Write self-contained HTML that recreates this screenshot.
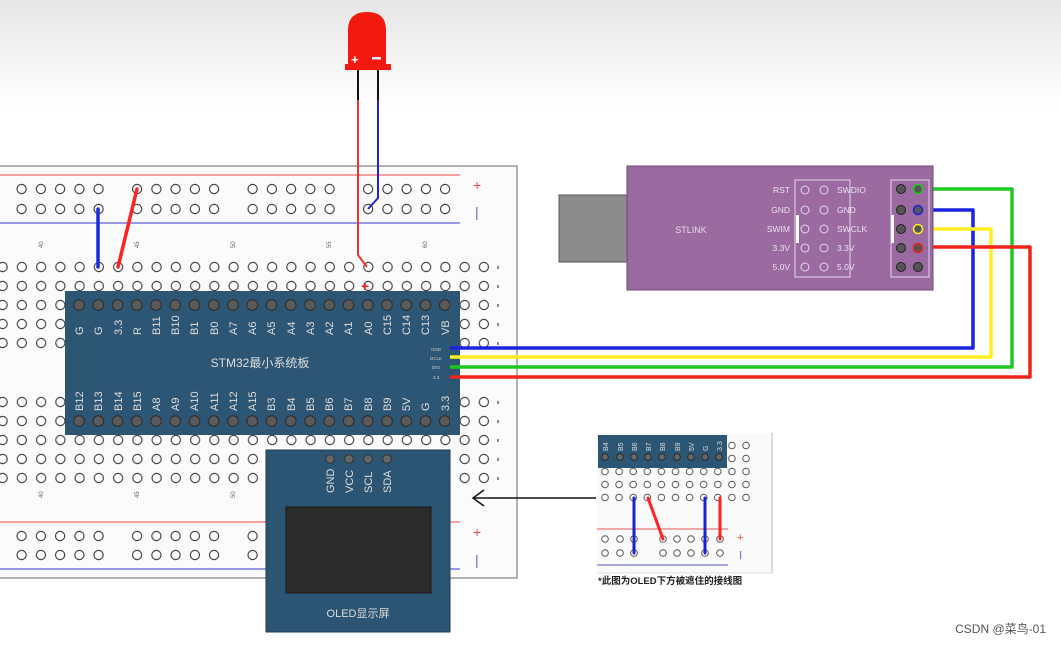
<!DOCTYPE html>
<html><head><meta charset="utf-8"><style>
html,body{margin:0;padding:0;background:#fff;}
svg{display:block;font-family:"Liberation Sans","Noto Sans CJK SC",sans-serif;}
</style></head><body>
<svg width="1061" height="646" viewBox="0 0 1061 646" xmlns="http://www.w3.org/2000/svg">
<defs>
<linearGradient id="bg" x1="0" y1="0" x2="0" y2="1">
<stop offset="0" stop-color="#e6e6e6"/><stop offset="1" stop-color="#ffffff"/>
</linearGradient>
<pattern id="hole" x="-7" y="257.5" width="19.25" height="19" patternUnits="userSpaceOnUse">
<circle cx="9.625" cy="9.5" r="4.6" fill="#fff" stroke="#444" stroke-width="1.2"/>
</pattern>
<pattern id="holeB" x="-7" y="392.5" width="19.25" height="19" patternUnits="userSpaceOnUse">
<circle cx="9.625" cy="9.5" r="4.6" fill="#fff" stroke="#444" stroke-width="1.2"/>
</pattern>
<pattern id="rail" x="12" y="179" width="115.5" height="20" patternUnits="userSpaceOnUse">
<g fill="#fff" stroke="#444" stroke-width="1.2">
<circle cx="9.6" cy="10" r="4.6"/><circle cx="28.9" cy="10" r="4.6"/><circle cx="48.1" cy="10" r="4.6"/><circle cx="67.4" cy="10" r="4.6"/><circle cx="86.6" cy="10" r="4.6"/></g>
</pattern>
<pattern id="railB" x="12" y="526.5" width="115.5" height="19" patternUnits="userSpaceOnUse">
<g fill="#fff" stroke="#444" stroke-width="1.2">
<circle cx="9.6" cy="9.5" r="4.6"/><circle cx="28.9" cy="9.5" r="4.6"/><circle cx="48.1" cy="9.5" r="4.6"/><circle cx="67.4" cy="9.5" r="4.6"/><circle cx="86.6" cy="9.5" r="4.6"/></g>
</pattern>
<pattern id="pin" x="69.4" y="295" width="19.25" height="116" patternUnits="userSpaceOnUse">
<circle cx="9.625" cy="10" r="5.3" fill="#5a5a5a" stroke="#2a2a2a" stroke-width="1"/>
<circle cx="9.625" cy="126" r="5.3" fill="#5a5a5a" stroke="#2a2a2a" stroke-width="1"/>
</pattern>
<pattern id="ihole" x="598" y="465" width="14.1" height="13" patternUnits="userSpaceOnUse">
<circle cx="7" cy="6.5" r="3.3" fill="#fff" stroke="#555" stroke-width="1"/>
</pattern>
</defs>
<rect width="1061" height="110" fill="url(#bg)"/>

<!-- breadboard -->
<rect x="-5" y="166" width="522" height="412" fill="#fbfbfb" stroke="#999" stroke-width="1.5"/>
<line x1="0" y1="175" x2="460" y2="175" stroke="#e44" stroke-width="1"/>
<line x1="0" y1="223" x2="460" y2="223" stroke="#33c" stroke-width="1"/>
<line x1="0" y1="522" x2="460" y2="522" stroke="#e44" stroke-width="1"/>
<line x1="0" y1="569" x2="460" y2="569" stroke="#33c" stroke-width="1"/>
<rect x="12" y="179" width="445" height="40" fill="url(#rail)"/>
<rect x="12" y="526.5" width="445" height="38" fill="url(#railB)"/>
<rect x="-7" y="257.5" width="500" height="95" fill="url(#hole)"/>
<rect x="-7" y="392.5" width="500" height="95" fill="url(#holeB)"/>
<g fill="#e44" font-size="14"><text x="473" y="190">+</text><text x="473" y="537">+</text></g>
<g fill="#66c" font-size="14"><text x="475" y="217">|</text><text x="475" y="565">|</text></g>
<g font-size="6" fill="#666">
<text transform="translate(43,248) rotate(-90)">40</text><text transform="translate(139,248) rotate(-90)">45</text><text transform="translate(235,248) rotate(-90)">50</text><text transform="translate(331,248) rotate(-90)">55</text><text transform="translate(427,248) rotate(-90)">60</text>
<text transform="translate(43,498) rotate(-90)">40</text><text transform="translate(139,498) rotate(-90)">45</text><text transform="translate(235,498) rotate(-90)">50</text>
</g>
<g fill="#888"><rect x="497" y="266" width="2" height="3"/><rect x="497" y="285" width="2" height="3"/><rect x="497" y="304" width="2" height="3"/><rect x="497" y="323" width="2" height="3"/><rect x="497" y="342" width="2" height="3"/><rect x="497" y="401" width="2" height="3"/><rect x="497" y="420" width="2" height="3"/><rect x="497" y="439" width="2" height="3"/><rect x="497" y="458" width="2" height="3"/><rect x="497" y="477" width="2" height="3"/></g>

<!-- jumpers -->
<line x1="98" y1="209" x2="98" y2="267" stroke="#1a2bd8" stroke-width="3.5" stroke-linecap="round"/>
<line x1="137" y1="189" x2="118" y2="267" stroke="#f22" stroke-width="3.5" stroke-linecap="round"/>
<text x="361" y="291" fill="#f22" font-size="14" font-weight="bold">+</text>

<!-- LED -->
<path d="M358 70 V100" stroke="#111" stroke-width="2" fill="none"/>
<path d="M378 70 V100" stroke="#111" stroke-width="2" fill="none"/>
<path d="M358 100 V255 L367 267" stroke="#e33" stroke-width="2" fill="none"/>
<path d="M378 100 V198 L368 209" stroke="#22c" stroke-width="2" fill="none"/>
<path d="M348 64 V30 Q348 12 367 12 Q386 12 386 30 V64 Z" fill="#f21a0f"/>
<rect x="345" y="64" width="46" height="6" fill="#f21a0f"/>
<text x="351" y="64" fill="#fff" font-size="13" font-weight="bold">+</text>
<rect x="372" y="57" width="9" height="2.5" fill="#fff"/>

<!-- STM32 board -->
<rect x="65" y="291" width="395" height="144" fill="#2d5674"/>
<rect x="65" y="295" width="385" height="136" fill="url(#pin)"/>
<g fill="#ddd" font-size="11">
<text transform="translate(83,335) rotate(-90)">G</text>
<text transform="translate(102,335) rotate(-90)">G</text>
<text transform="translate(122,335) rotate(-90)">3.3</text>
<text transform="translate(141,335) rotate(-90)">R</text>
<text transform="translate(160,335) rotate(-90)">B11</text>
<text transform="translate(179,335) rotate(-90)">B10</text>
<text transform="translate(198,335) rotate(-90)">B1</text>
<text transform="translate(218,335) rotate(-90)">B0</text>
<text transform="translate(237,335) rotate(-90)">A7</text>
<text transform="translate(256,335) rotate(-90)">A6</text>
<text transform="translate(275,335) rotate(-90)">A5</text>
<text transform="translate(295,335) rotate(-90)">A4</text>
<text transform="translate(314,335) rotate(-90)">A3</text>
<text transform="translate(333,335) rotate(-90)">A2</text>
<text transform="translate(352,335) rotate(-90)">A1</text>
<text transform="translate(372,335) rotate(-90)">A0</text>
<text transform="translate(391,335) rotate(-90)">C15</text>
<text transform="translate(410,335) rotate(-90)">C14</text>
<text transform="translate(429,335) rotate(-90)">C13</text>
<text transform="translate(449,335) rotate(-90)">VB</text>
<text transform="translate(83,411) rotate(-90)">B12</text>
<text transform="translate(102,411) rotate(-90)">B13</text>
<text transform="translate(122,411) rotate(-90)">B14</text>
<text transform="translate(141,411) rotate(-90)">B15</text>
<text transform="translate(160,411) rotate(-90)">A8</text>
<text transform="translate(179,411) rotate(-90)">A9</text>
<text transform="translate(198,411) rotate(-90)">A10</text>
<text transform="translate(218,411) rotate(-90)">A11</text>
<text transform="translate(237,411) rotate(-90)">A12</text>
<text transform="translate(256,411) rotate(-90)">A15</text>
<text transform="translate(275,411) rotate(-90)">B3</text>
<text transform="translate(295,411) rotate(-90)">B4</text>
<text transform="translate(314,411) rotate(-90)">B5</text>
<text transform="translate(333,411) rotate(-90)">B6</text>
<text transform="translate(352,411) rotate(-90)">B7</text>
<text transform="translate(372,411) rotate(-90)">B8</text>
<text transform="translate(391,411) rotate(-90)">B9</text>
<text transform="translate(410,411) rotate(-90)">5V</text>
<text transform="translate(429,411) rotate(-90)">G</text>
<text transform="translate(449,411) rotate(-90)">3.3</text>
</g>
<text x="260" y="367" fill="#ddd" font-size="12" text-anchor="middle">STM32最小系统板</text>
<g fill="#ccc" font-size="4.5"><text x="431" y="351">GND</text><text x="430" y="360">DCLK</text><text x="432" y="369">DIO</text><text x="433" y="379">3.3</text></g>

<!-- SWD wires -->
<g fill="none" stroke-width="3.5" stroke-linejoin="round">
<path d="M450 348 H973 V210 H918" stroke="#1a23e0"/>
<path d="M450 357 H991 V229 H918" stroke="#ffee22"/>
<path d="M450 367 H1012 V189 H918" stroke="#1ec81e"/>
<path d="M450 377 H1030 V247 H918" stroke="#f0221a"/>
</g>

<!-- STLINK -->
<rect x="559" y="195" width="69" height="67" fill="#8c8c8c" stroke="#555"/>
<rect x="627" y="166" width="306" height="124" fill="#9a6aa0" stroke="#6d4a74"/>
<text x="691" y="233" fill="#e6d8ea" font-size="9" text-anchor="middle">STLINK</text>
<rect x="795" y="180" width="55" height="97" fill="none" stroke="#e6d8ea" stroke-width="1"/>
<rect x="796" y="215" width="3" height="28" fill="#fff"/>
<g fill="none" stroke="#e6d8ea" stroke-width="1">
<circle cx="805" cy="190" r="4"/><circle cx="824" cy="190" r="4"/>
<circle cx="805" cy="210" r="4"/><circle cx="824" cy="210" r="4"/>
<circle cx="805" cy="229" r="4"/><circle cx="824" cy="229" r="4"/>
<circle cx="805" cy="248" r="4"/><circle cx="824" cy="248" r="4"/>
<circle cx="805" cy="267" r="4"/><circle cx="824" cy="267" r="4"/>
</g>
<g fill="#ecdff0" font-size="8.5">
<g text-anchor="end"><text x="790" y="193">RST</text><text x="790" y="213">GND</text><text x="790" y="232">SWIM</text><text x="790" y="251">3.3V</text><text x="790" y="270">5.0V</text></g>
<text x="837" y="193">SWDIO</text><text x="837" y="213">GND</text><text x="837" y="232">SWCLK</text><text x="837" y="251">3.3V</text><text x="837" y="270">5.0V</text>
</g>
<rect x="891" y="180" width="38" height="97" fill="none" stroke="#e6d8ea"/>
<rect x="891" y="215" width="3" height="28" fill="#fff"/>
<g fill="#555" stroke="#222" stroke-width="1">
<circle cx="901" cy="189" r="4.5"/><circle cx="901" cy="210" r="4.5"/><circle cx="901" cy="229" r="4.5"/><circle cx="901" cy="248" r="4.5"/><circle cx="901" cy="267" r="4.5"/>
<circle cx="918" cy="267" r="4.5"/>
</g>
<g stroke-width="1.5"><circle cx="918" cy="189" r="4.5" fill="#555" stroke="#1ec81e"/><circle cx="918" cy="210" r="4.5" fill="#555" stroke="#1a23e0"/><circle cx="918" cy="229" r="4.5" fill="#555" stroke="#ffee22"/><circle cx="918" cy="248" r="4.5" fill="#555" stroke="#f0221a"/></g>

<!-- OLED -->
<rect x="266" y="450" width="184" height="182" fill="#2b5572" stroke="#1d3b50"/>
<g fill="#666" stroke="#333"><circle cx="330" cy="459" r="4.3"/><circle cx="349" cy="459" r="4.3"/><circle cx="368" cy="459" r="4.3"/><circle cx="387" cy="459" r="4.3"/></g>
<g fill="#ddd" font-size="11">
<text transform="translate(334,493) rotate(-90)">GND</text>
<text transform="translate(353,493) rotate(-90)">VCC</text>
<text transform="translate(372,493) rotate(-90)">SCL</text>
<text transform="translate(391,493) rotate(-90)">SDA</text>
</g>
<rect x="286" y="507" width="145" height="86" fill="#2b2b2b" stroke="#1a1a1a"/>
<text x="358" y="617" fill="#ddd" font-size="11" text-anchor="middle">OLED显示屏</text>

<!-- arrow -->
<line x1="596" y1="498" x2="474" y2="498" stroke="#111" stroke-width="1.5"/>
<path d="M484 490 L473 498 L484 506" fill="none" stroke="#111" stroke-width="1.5"/>

<!-- inset -->
<rect x="597" y="433" width="175" height="140" fill="#fafafa"/>
<line x1="772" y1="433" x2="772" y2="573" stroke="#bbb"/>
<line x1="597" y1="573" x2="772" y2="573" stroke="#ddd"/>
<rect x="598" y="465" width="156" height="39" fill="url(#ihole)"/>
<rect x="726" y="440" width="28" height="26" fill="url(#ihole)"/>
<g fill="#fff" stroke="#555" stroke-width="1"><circle cx="605" cy="539" r="3.3"/><circle cx="620" cy="539" r="3.3"/><circle cx="634" cy="539" r="3.3"/><circle cx="663" cy="539" r="3.3"/><circle cx="677" cy="539" r="3.3"/><circle cx="691" cy="539" r="3.3"/><circle cx="705" cy="539" r="3.3"/><circle cx="720" cy="539" r="3.3"/>
<circle cx="605" cy="553" r="3.3"/><circle cx="620" cy="553" r="3.3"/><circle cx="634" cy="553" r="3.3"/><circle cx="663" cy="553" r="3.3"/><circle cx="677" cy="553" r="3.3"/><circle cx="691" cy="553" r="3.3"/><circle cx="705" cy="553" r="3.3"/><circle cx="720" cy="553" r="3.3"/></g>
<line x1="597" y1="529" x2="728" y2="529" stroke="#d55"/>
<line x1="597" y1="565" x2="728" y2="565" stroke="#55c"/>
<text x="737" y="541" fill="#e44" font-size="11">+</text>
<rect x="740" y="551" width="1.2" height="8" fill="#77c"/>
<rect x="598" y="435" width="129" height="33" fill="#2d5674"/>
<g fill="#666" stroke="#222" stroke-width=".8"><circle cx="605" cy="457" r="3.3"/><circle cx="620" cy="457" r="3.3"/><circle cx="634" cy="457" r="3.3"/><circle cx="648" cy="457" r="3.3"/><circle cx="662" cy="457" r="3.3"/><circle cx="677" cy="457" r="3.3"/><circle cx="691" cy="457" r="3.3"/><circle cx="705" cy="457" r="3.3"/><circle cx="719" cy="457" r="3.3"/></g>
<g fill="#ddd" font-size="7">
<text transform="translate(608,451) rotate(-90)">B4</text><text transform="translate(623,451) rotate(-90)">B5</text><text transform="translate(637,451) rotate(-90)">B6</text><text transform="translate(651,451) rotate(-90)">B7</text><text transform="translate(665,451) rotate(-90)">B8</text><text transform="translate(680,451) rotate(-90)">B9</text><text transform="translate(694,451) rotate(-90)">5V</text><text transform="translate(708,451) rotate(-90)">G</text><text transform="translate(722,451) rotate(-90)">3.3</text>
</g>
<g stroke-width="3" stroke-linecap="round">
<line x1="634" y1="498" x2="634" y2="553" stroke="#1a23d0"/>
<line x1="648" y1="498" x2="663" y2="539" stroke="#f22"/>
<line x1="705" y1="498" x2="705" y2="553" stroke="#1a23d0"/>
<line x1="720" y1="498" x2="720" y2="539" stroke="#f22"/>
</g>
<text x="598" y="584" fill="#222" font-size="9.5" font-weight="bold">*此图为OLED下方被遮住的接线图</text>

<text x="1046" y="633" fill="#555" font-size="12" text-anchor="end">CSDN @菜鸟-01</text>
</svg>
</body></html>
